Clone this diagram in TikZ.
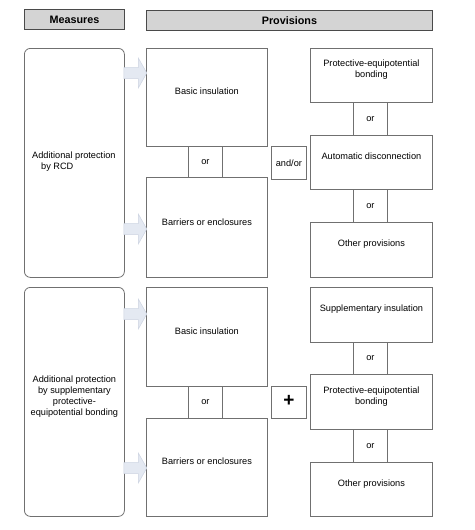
\documentclass[tikz,border=0pt]{standalone}
\usepackage{fontspec}
\setmainfont{Liberation Sans}
\definecolor{hdrfill}{HTML}{D4D4D4}
\definecolor{hdrline}{HTML}{4A4A4A}
\definecolor{boxline}{HTML}{707070}
\definecolor{arrfill}{HTML}{E4E9F2}
\definecolor{arrline}{HTML}{CDD4E2}
\tikzset{
  hdr/.style={draw=hdrline, fill=hdrfill, line width=0.9pt, inner sep=0pt, anchor=north west, font=\fontsize{10.8}{13}\selectfont\bfseries},
  box/.style={draw=boxline, line width=0.8pt, inner sep=0pt, anchor=north west},
  mbox/.style={box, rounded corners=6pt},
  txt/.style={font=\fontsize{9.2}{11}\selectfont, align=center, inner sep=0pt},
  plustxt/.style={font=\fontsize{19}{19}\selectfont\bfseries, inner sep=0pt},
  blockarr/.style={fill=arrfill, draw=arrline, line width=0.5pt},
}
\newcommand{\blockarrow}[3]{%
  \path[blockarr] (#1.east |- #3) ++(-1,-5.5) -- ++(14.5,0) -- ++(0,-9.5) -- ++(8.5,15) -- ++(-8.5,15) -- ++(0,-9.5) -- ++(-14.5,0) -- cycle;}
\begin{document}
\begin{tikzpicture}[x=1pt,y=-1pt]
\path[fill=white] (0,0) rectangle (474,530);
\useasboundingbox (0,0) rectangle (474,530);
% headers
\node[hdr, minimum width=100pt, minimum height=20pt] (hm) at (24,9) {Measures};
\node[hdr, minimum width=286pt, minimum height=20pt] (hp) at (146,10) {Provisions};
% measures
\node[mbox, minimum width=100pt, minimum height=229pt] (m1) at (24,48) {};
\node[mbox, minimum width=100pt, minimum height=229pt] (m2) at (24,287) {};
% upper block
\node[box, minimum width=121pt, minimum height=98pt] (bi1) at (146,48) {};
\node[box, minimum width=34pt, minimum height=31pt] (or1) at (188,146) {};
\node[box, minimum width=121pt, minimum height=100pt] (be1) at (146,177) {};
\node[box, minimum width=35pt, minimum height=33pt] (ao) at (271,146) {};
\node[box, minimum width=122pt, minimum height=54pt] (pe1) at (310,48) {};
\node[box, minimum width=34pt, minimum height=33pt] (or2) at (353,102) {};
\node[box, minimum width=122pt, minimum height=54pt] (ad) at (310,135) {};
\node[box, minimum width=34pt, minimum height=33pt] (or3) at (353,189) {};
\node[box, minimum width=122pt, minimum height=55pt] (op1) at (310,222) {};
% lower block
\node[box, minimum width=121pt, minimum height=99pt] (bi2) at (146,287) {};
\node[box, minimum width=34pt, minimum height=32pt] (or4) at (188,386) {};
\node[box, minimum width=121pt, minimum height=98pt] (be2) at (146,418) {};
\node[box, minimum width=35pt, minimum height=32pt] (pl) at (271,386) {};
\node[box, minimum width=122pt, minimum height=55pt] (si) at (310,287) {};
\node[box, minimum width=34pt, minimum height=32pt] (or5) at (353,342) {};
\node[box, minimum width=122pt, minimum height=55pt] (pe2) at (310,374) {};
\node[box, minimum width=34pt, minimum height=33pt] (or6) at (353,429) {};
\node[box, minimum width=122pt, minimum height=54pt] (op2) at (310,462) {};
% texts
\node[txt, align=left, anchor=west] (t-m1) at ([xshift=8pt,yshift=1pt]m1.west) {Additional protection\\\hspace*{9pt}by RCD};
\node[txt] (t-m2) at ([yshift=5pt]m2.center) {Additional protection\\by supplementary\\protective-\\equipotential bonding};
\node[txt] (t-bi1) at ([yshift=6pt]bi1.center) {Basic insulation};
\node[txt] (t-or1) at (or1.center) {or};
\node[txt] (t-be1) at ([yshift=5pt]be1.center) {Barriers or enclosures};
\node[txt] (t-ao) at (ao.center) {and/or};
\node[txt] (t-pe1) at ([yshift=5.5pt]pe1.center) {Protective-equipotential\\bonding};
\node[txt] (t-or2) at (or2.center) {or};
\node[txt] (t-ad) at ([yshift=6pt]ad.center) {Automatic disconnection};
\node[txt] (t-or3) at (or3.center) {or};
\node[txt] (t-op1) at ([yshift=6pt]op1.center) {Other provisions};
\node[txt] (t-bi2) at ([yshift=5.5pt]bi2.center) {Basic insulation};
\node[txt] (t-or4) at (or4.center) {or};
\node[txt] (t-be2) at ([yshift=6pt]be2.center) {Barriers or enclosures};
\node[plustxt] (t-pl) at ([yshift=1pt]pl.center) {+};
\node[txt] (t-si) at ([yshift=6pt]si.center) {Supplementary insulation};
\node[txt] (t-or5) at (or5.center) {or};
\node[txt] (t-pe2) at ([yshift=5pt]pe2.center) {Protective-equipotential\\bonding};
\node[txt] (t-or6) at (or6.center) {or};
\node[txt] (t-op2) at ([yshift=5pt]op2.center) {Other provisions};
% arrows
\coordinate (y1) at (0,73);
\coordinate (y2) at (0,229);
\coordinate (y3) at (0,314);
\coordinate (y4) at (0,468);
\blockarrow{m1}{bi1}{y1}
\blockarrow{m1}{be1}{y2}
\blockarrow{m2}{bi2}{y3}
\blockarrow{m2}{be2}{y4}
\end{tikzpicture}
\end{document}
